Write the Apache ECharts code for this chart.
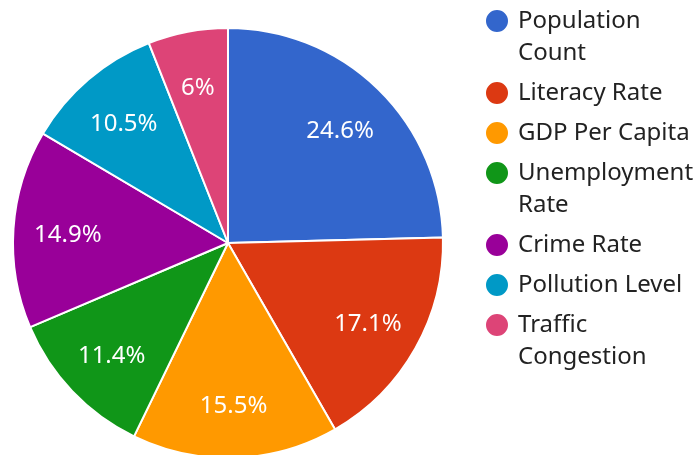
<!DOCTYPE html>
<html>
<head>
<meta charset="utf-8">
<script src="https://cdn.jsdelivr.net/npm/echarts@6/dist/echarts.min.js"></script>
<style>
	html, body { margin: 0; padding: 0; background: #fff; }
	#chart { width: 699px; height: 455px; }
</style>
</head>
<body>
<div id="chart"></div>
<script>
const categories = ['Population Count', 'Literacy Rate', 'GDP Per Capita', 'Unemployment Rate', 'Crime Rate', 'Pollution Level', 'Traffic Congestion'];
const shares = [24.6, 17.1, 15.5, 11.4, 14.9, 10.5, 6];
const palette = ['#3366cc', '#dc3912', '#ff9900', '#109618', '#990099', '#0099c6', '#dd4477'];

// long names go on two lines in the legend
const wrapName = (name) => {
	if (name.length <= 15) return name;
	const i = name.lastIndexOf(' ');
	return name.slice(0, i) + '\n' + name.slice(i + 1);
};

// a blank first line keeps the dot level with the first line of text
const legendText = (name) => {
	const text = wrapName(name);
	return text.indexOf('\n') >= 0 ? '\u00a0\n' + text : text;
};

const pieData = categories.map((name, i) => ({ name: name, value: shares[i] }));

// one legend per entry
let iconTop = 9;
const legends = categories.map((name) => {
	const twoLines = wrapName(name).indexOf('\n') >= 0;
	const legend = {
		orient: 'vertical',
		left: 484,
		top: iconTop - (twoLines ? 36 : 4),
		padding: 0,
		itemWidth: 24,
		itemHeight: 24,
		icon: 'circle',
		data: [name],
		formatter: legendText,
		textStyle: {
			fontFamily: 'Noto Sans',
			fontSize: 24,
			lineHeight: 32,
			color: '#222222',
			padding: [0, 0, 0, 4]
		}
	};
	iconTop += twoLines ? 72 : 40;
	return legend;
});

const getOption = () => {
	return {
		animation: false,
		color: palette,
		legend: legends,
		series: [
			{
				name: 'Share',
				type: 'pie',
				center: [228, 243],
				radius: [0, 215],
				startAngle: 90,
				label: { show: false },
				labelLine: { show: false },
				itemStyle: { borderColor: '#ffffff', borderWidth: 2 },
				emphasis: { scale: false },
				data: pieData
			},
			{
				// transparent ring only used to place the percentage labels
				name: 'Labels',
				type: 'pie',
				center: [228, 243],
				radius: [100, 215],
				startAngle: 90,
				silent: true,
				itemStyle: { color: 'rgba(0,0,0,0)', borderWidth: 0 },
				label: {
					show: true,
					position: 'inside',
					formatter: '{c}%',
					fontFamily: 'Noto Sans',
					fontSize: 24,
					color: '#ffffff',
					offset: [0, 3]
				},
				labelLine: { show: false },
				emphasis: { disabled: true },
				data: pieData
			}
		]
	};
};

const chart = echarts.init(document.getElementById('chart'));
chart.setOption(getOption());
</script>
</body>
</html>
